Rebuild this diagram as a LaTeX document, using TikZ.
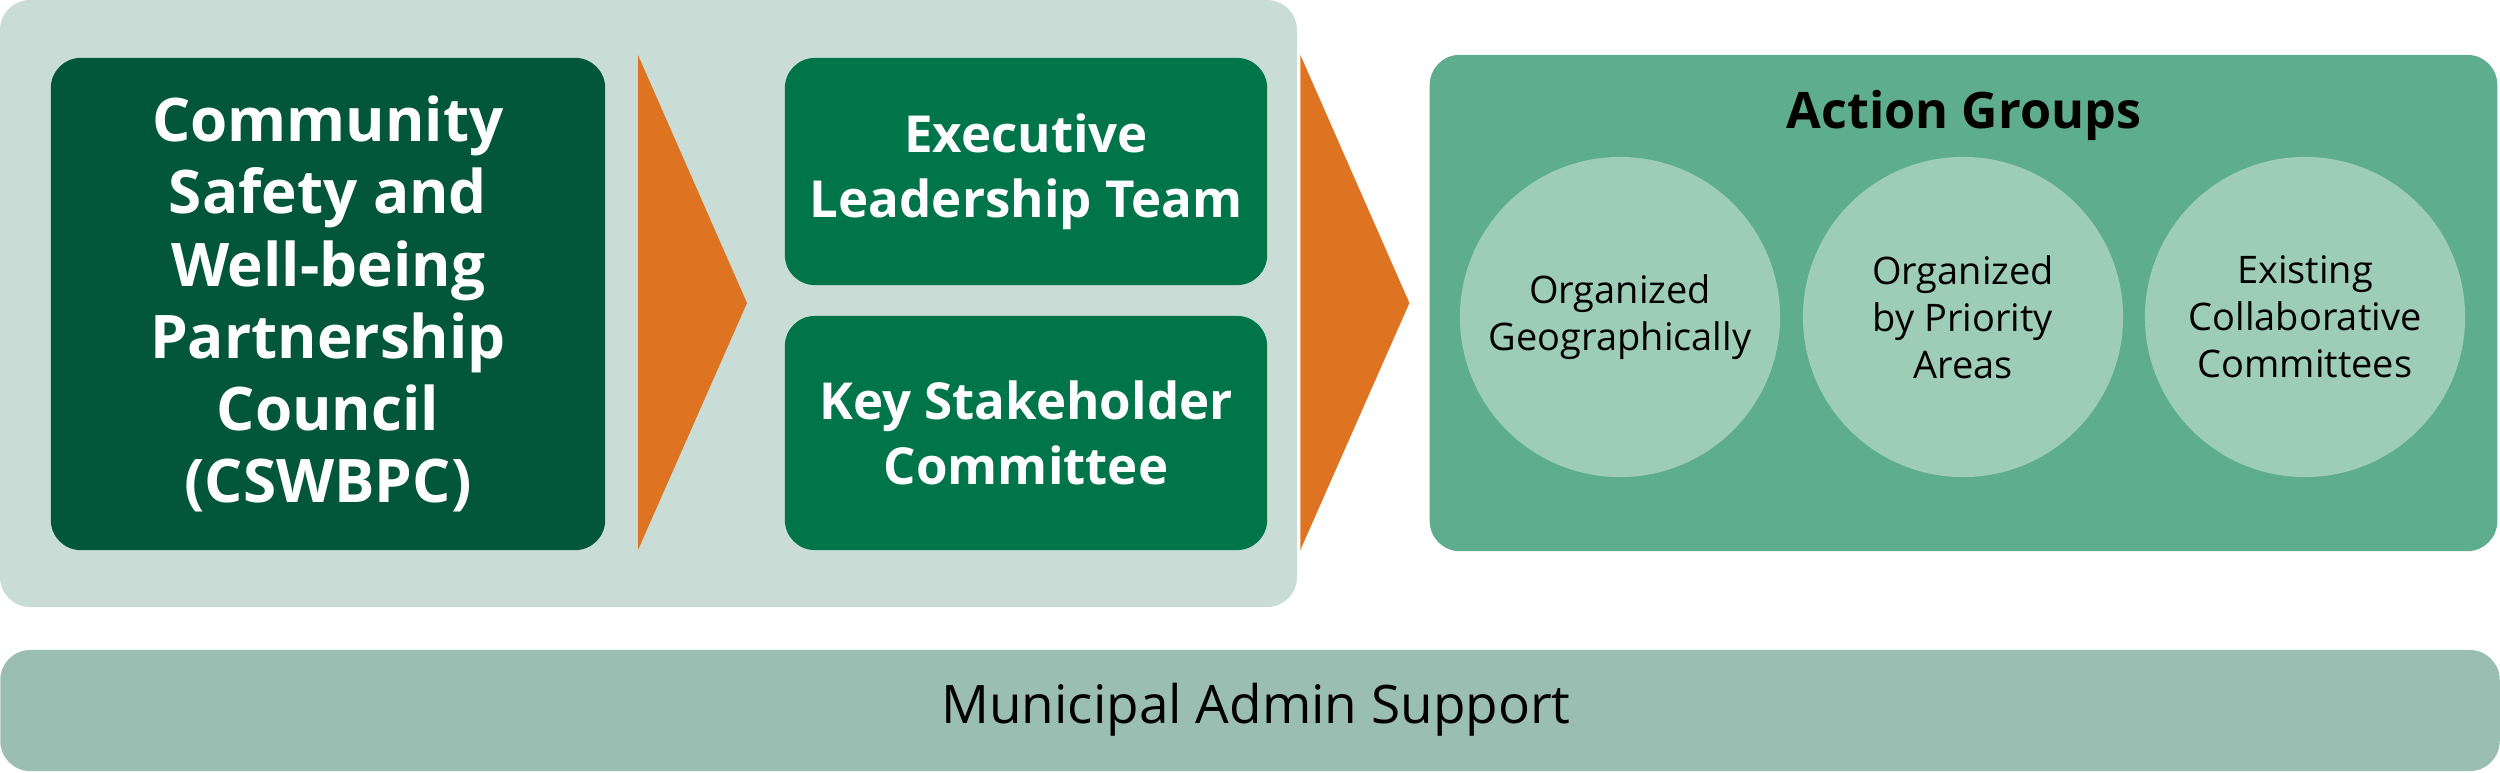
\documentclass[tikz,border=0pt]{standalone}
\usepackage{fontspec}
\setmainfont{Open Sans}

\definecolor{panelgray}{HTML}{C9DDD6}
\definecolor{councilgreen}{HTML}{02573A}
\definecolor{teamgreen}{HTML}{00754A}
\definecolor{arroworange}{HTML}{DE7421}
\definecolor{actiongreen}{HTML}{5EAD8E}
\definecolor{circlegreen}{HTML}{9ECDB7}
\definecolor{supportgreen}{HTML}{9BBEB2}

\begin{document}
\begin{tikzpicture}[x=0.01cm,y=-0.01cm,
  box/.style={rectangle, rounded corners=0.3cm, text=white, align=center, inner sep=0pt},
  group/.style={circle, fill=circlegreen, minimum size=3.2cm, align=center, inner sep=0pt,
    font=\fontsize{10.8}{13.4}\selectfont}]
\useasboundingbox (0,0) rectangle (2500,772);

% left panel
\fill[panelgray, rounded corners=0.3cm] (0,0) rectangle (1297,607);

\node[box, fill=councilgreen, minimum width=5.54cm, minimum height=4.92cm,
  font=\fontsize{17.1}{20.5}\selectfont\bfseries] (council) at (328,304)
  {Community\\Safety and\\Well-being\\Partnership\\Council\\(CSWBPC)};

\begin{scope}
\coordinate (a) at (638,55);
\coordinate (b) at (747,303);
\coordinate (c) at (638,550);
\fill[arroworange] (a) -- (b) -- (c) -- cycle;
\end{scope}

\node[box, fill=teamgreen, minimum width=4.82cm, minimum height=2.27cm,
  font=\fontsize{14.5}{18.5}\selectfont\bfseries] (exec) at (1026,171.5)
  {Executive\\Leadership Team};
\node[box, fill=teamgreen, minimum width=4.82cm, minimum height=2.34cm,
  font=\fontsize{14.5}{18.5}\selectfont\bfseries] (stake) at (1026,433)
  {Key Stakeholder\\Committee};

\begin{scope}[xshift=6.62cm]
\coordinate (a) at (638,55);
\coordinate (b) at (747,303);
\coordinate (c) at (638,550);
\fill[arroworange] (a) -- (b) -- (c) -- cycle;
\end{scope}

% action groups
\node[rectangle, rounded corners=0.3cm, fill=actiongreen, minimum width=10.67cm,
  minimum height=4.96cm] (action) at (1963.5,303) {};
\node[anchor=base, font=\fontsize{14.3}{17}\selectfont\bfseries] (title) at (1964,128) {Action Groups};

\node[group] (geo) at (1620,317) {Organized\\Geographically};
\node[group] (prio) at (1963,317) {Organized\\by Priority\\Areas};
\node[group] (exist) at (2305,317) {Existing\\Collaborative\\Committees};

% bottom bar
\node[rectangle, rounded corners=0.3cm, fill=supportgreen, minimum width=24.98cm,
  minimum height=1.21cm] (support) at (1250,710.5) {};
\node[anchor=base, font=\fontsize{15.1}{18}\selectfont] (supporttext) at (1256,723) {Municipal Admin Support};

\end{tikzpicture}
\end{document}
